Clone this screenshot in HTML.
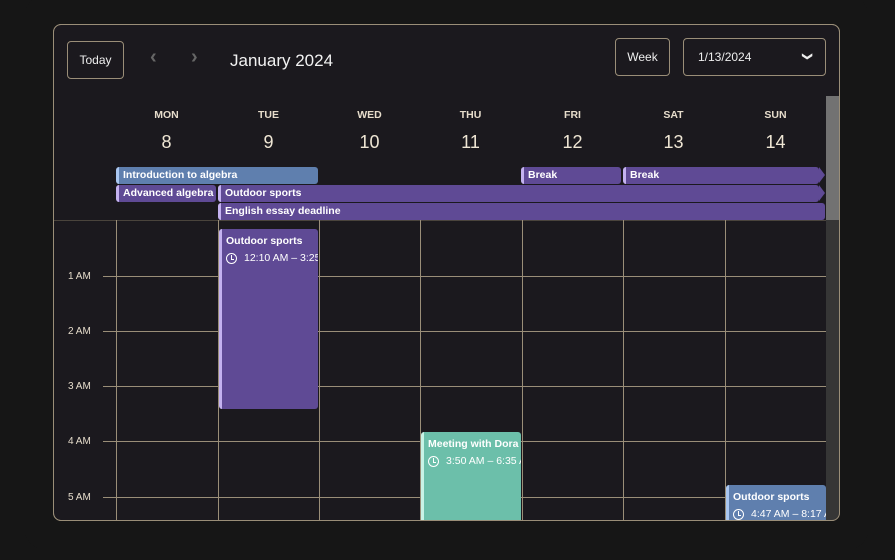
<!DOCTYPE html>
<html><head><style>
*{box-sizing:border-box;margin:0;padding:0}
body{width:895px;height:560px;background:#161616;font-family:"Liberation Sans",sans-serif;position:relative;overflow:hidden;color:#eee}
.a{position:absolute}
.panel{left:53px;top:24px;width:787px;height:497px;background:#1b191e;border:1px solid #9a8e78;border-radius:8px;overflow:hidden}
.btn{border:1px solid #9a8e78;border-radius:4px;font-size:12px;color:#eee;display:flex;align-items:center}
.dn{font-size:10.5px;font-weight:bold;color:#e6dccb;text-align:center;width:101px}
.dd{font-size:18px;color:#efe6d4;text-align:center;width:101px}
.ev{height:17px;border-radius:3px;font-size:10.5px;font-weight:bold;color:#fff;padding-left:4px;line-height:17px;border-left:3px solid #c4b2f0;white-space:nowrap;overflow:hidden}
.p{background:#5f4a95}
.b{background:#5f7fae;border-left-color:#a9c6f0}
.vl{width:1px;background:#9a8e78;top:220px;height:300px}
.hl{height:1px;background:#9a8e78;left:103px;width:723px}
.tl{font-size:10px;color:#e6dccb;left:68px}
.be{border-radius:3px;color:#fff;font-size:10.5px;padding:6px 0 0 4px;overflow:hidden;white-space:nowrap}
.be .t{font-weight:bold}
.be .s{font-weight:normal;margin-top:5px;display:flex;align-items:center;gap:7px}
.clk{flex:0 0 11px;width:11px;height:11px;border:1.5px solid #fff;border-radius:50%;position:relative;display:inline-block}
.clk:after{content:"";position:absolute;left:3.5px;top:1.5px;width:2px;height:3.5px;border-left:1.3px solid #fff;border-bottom:1.3px solid #fff}
</style></head><body>
<div class="a panel"></div>
<div class="a btn" style="left:67px;top:41px;width:57px;height:38px;justify-content:center">Today</div>
<div class="a" style="left:150px;top:46px;font-size:20px;color:#666;font-weight:bold">&#8249;</div>
<div class="a" style="left:191px;top:46px;font-size:20px;color:#666;font-weight:bold">&#8250;</div>
<div class="a" style="left:230px;top:51px;font-size:17px;color:#f2f2f2">January 2024</div>
<div class="a btn" style="left:615px;top:38px;width:55px;height:38px;justify-content:center">Week</div>
<div class="a btn" style="left:683px;top:38px;width:143px;height:38px;padding-left:14px">1/13/2024<span style="position:absolute;right:14px;top:12px;font-size:10px;font-weight:bold;transform:rotate(90deg)">&#10095;</span></div>
<!-- scrollbar -->
<div class="a" style="left:826px;top:96px;width:13px;height:124px;background:#727272"></div>
<div class="a" style="left:826px;top:220px;width:13px;height:300px;background:#363636"></div>
<!-- day headers -->
<div class="a dn" style="left:116px;top:109px">MON</div><div class="a dd" style="left:116px;top:132px">8</div>
<div class="a dn" style="left:218px;top:109px">TUE</div><div class="a dd" style="left:218px;top:132px">9</div>
<div class="a dn" style="left:319px;top:109px">WED</div><div class="a dd" style="left:319px;top:132px">10</div>
<div class="a dn" style="left:420px;top:109px">THU</div><div class="a dd" style="left:420px;top:132px">11</div>
<div class="a dn" style="left:522px;top:109px">FRI</div><div class="a dd" style="left:522px;top:132px">12</div>
<div class="a dn" style="left:623px;top:109px">SAT</div><div class="a dd" style="left:623px;top:132px">13</div>
<div class="a dn" style="left:725px;top:109px">SUN</div><div class="a dd" style="left:725px;top:132px">14</div>
<!-- all day -->
<div class="a ev b" style="left:116px;top:167px;width:202px">Introduction to algebra</div>
<div class="a ev p" style="left:521px;top:167px;width:100px">Break</div>
<div class="a ev p" style="left:623px;top:167px;width:196px">Break</div>
<div class="a" style="left:819px;top:167px;width:0;height:0;border-top:8.5px solid transparent;border-bottom:8.5px solid transparent;border-left:6px solid #5f4a95"></div>
<div class="a ev p" style="left:116px;top:185px;width:100px">Advanced algebra</div>
<div class="a ev p" style="left:218px;top:185px;width:601px">Outdoor sports</div>
<div class="a" style="left:819px;top:185px;width:0;height:0;border-top:8.5px solid transparent;border-bottom:8.5px solid transparent;border-left:6px solid #5f4a95"></div>
<div class="a ev p" style="left:218px;top:203px;width:607px">English essay deadline</div>
<div class="a" style="left:54px;top:220px;width:772px;height:1px;background:#4a443c"></div>
<!-- grid -->
<div class="a vl" style="left:116px"></div><div class="a vl" style="left:218px"></div><div class="a vl" style="left:319px"></div><div class="a vl" style="left:420px"></div><div class="a vl" style="left:522px"></div><div class="a vl" style="left:623px"></div><div class="a vl" style="left:725px"></div>
<div class="a hl" style="top:276px"></div><div class="a hl" style="top:331px"></div><div class="a hl" style="top:386px"></div><div class="a hl" style="top:441px"></div><div class="a hl" style="top:497px"></div>
<div class="a tl" style="top:271px">1 AM</div><div class="a tl" style="top:326px">2 AM</div><div class="a tl" style="top:381px">3 AM</div><div class="a tl" style="top:436px">4 AM</div><div class="a tl" style="top:492px">5 AM</div>
<!-- events -->
<div class="a be" style="left:219px;top:229px;width:99px;height:180px;background:#5f4a95;border-left:3px solid #c4b2f0"><div class="t">Outdoor sports</div><div class="s"><span class="clk"></span>12:10 AM – 3:25 AM</div></div>
<div class="a be" style="left:421px;top:432px;width:100px;height:88px;background:#6cbfaa;border-left:3px solid #c8f3e6;border-radius:3px 3px 0 0"><div class="t">Meeting with Dora</div><div class="s"><span class="clk"></span>3:50 AM – 6:35 AM</div></div>
<div class="a be" style="left:726px;top:485px;width:100px;height:35px;background:#5f7fae;border-left:3px solid #a9c6f0;border-radius:3px 3px 0 0"><div class="t">Outdoor sports</div><div class="s"><span class="clk"></span>4:47 AM – 8:17 AM</div></div>
<div class="a" style="left:53px;top:24px;width:787px;height:497px;border:1px solid #9a8e78;border-radius:8px;box-shadow:0 0 0 30px #161616"></div>
</body></html>
